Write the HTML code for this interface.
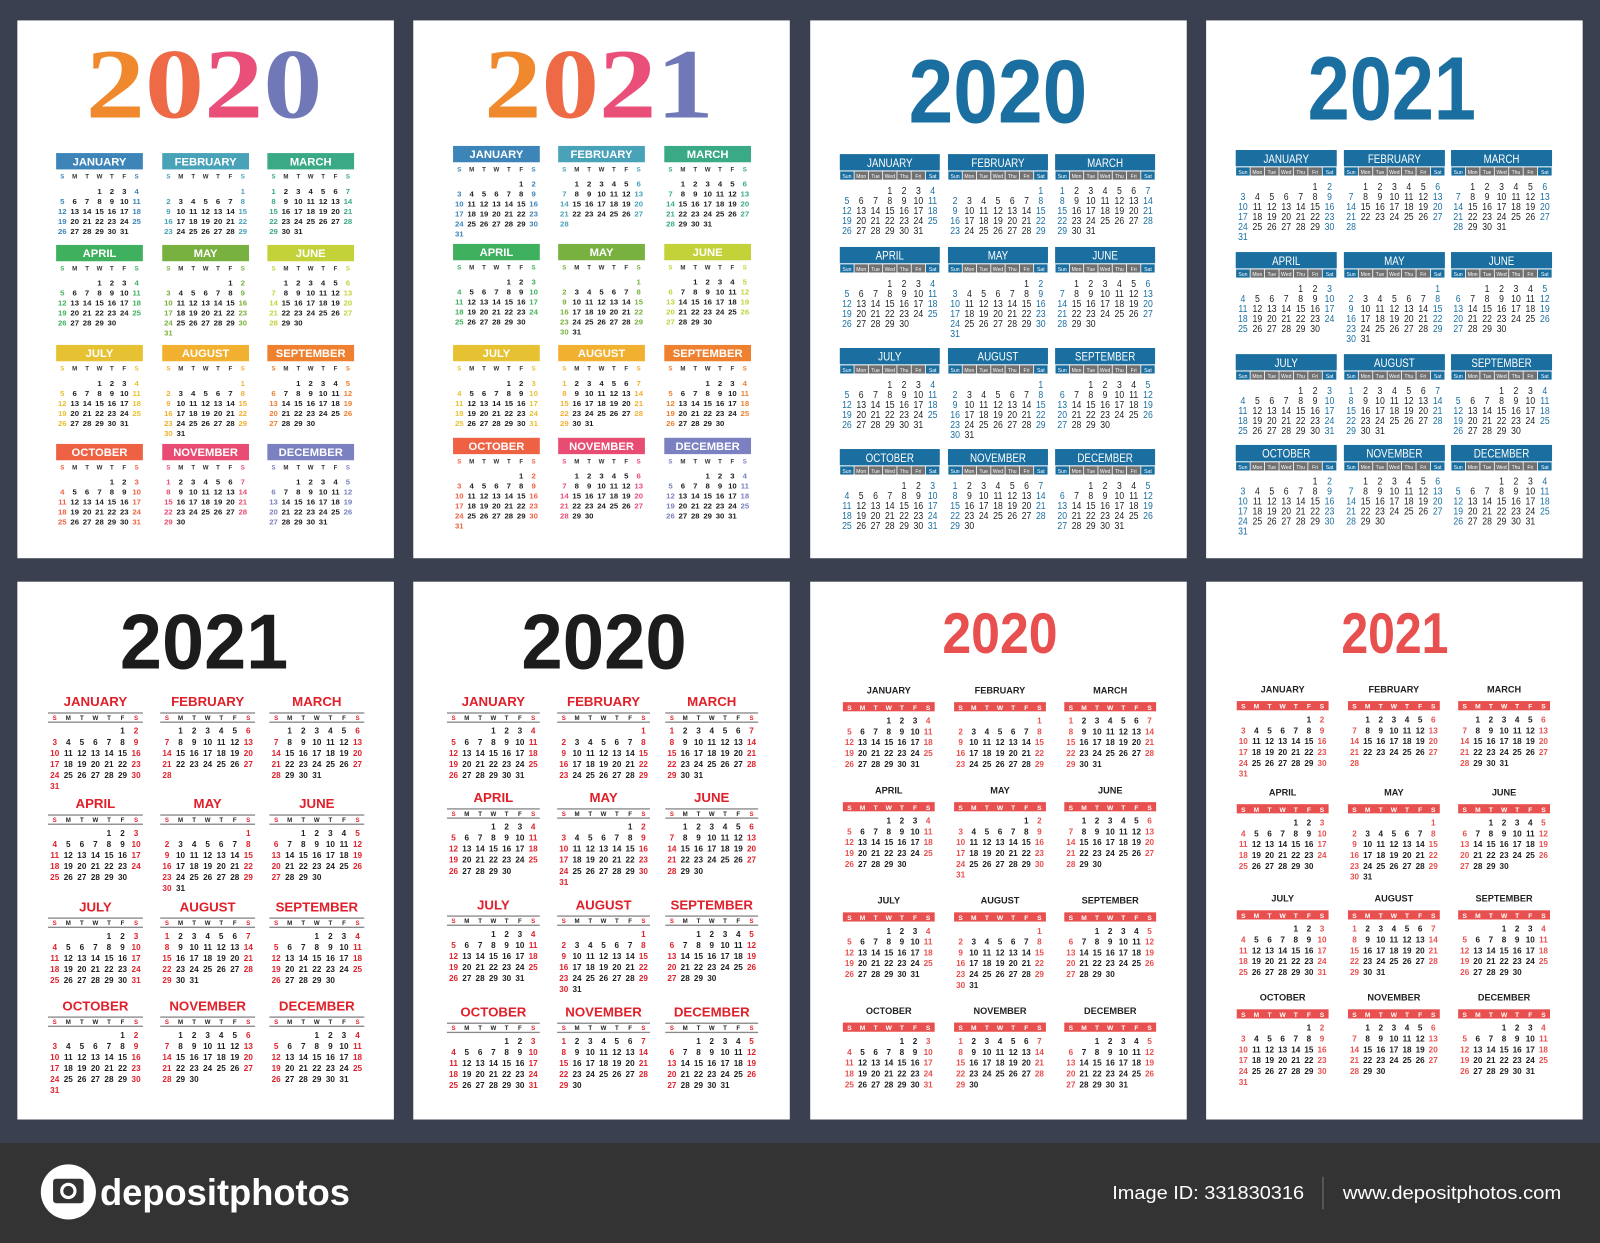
<!DOCTYPE html>
<html><head><meta charset="utf-8"><style>
html,body{margin:0;padding:0;background:#3b4050;}
svg{display:block;}
</style></head><body>
<svg id="cv" width="1600" height="1243" viewBox="0 0 1568 1218" preserveAspectRatio="none" xmlns="http://www.w3.org/2000/svg">
<rect x="0" y="0" width="1568" height="1218" fill="#3b4050"/>
</svg>
<script>
const cardYears=[2020,2021,2020,2021,2021,2020,2020,2021];
const cardStyles=['color','color','blue','blue','black','black','red','red'];
const monthNames=['JANUARY','FEBRUARY','MARCH','APRIL','MAY','JUNE','JULY','AUGUST','SEPTEMBER','OCTOBER','NOVEMBER','DECEMBER'];
const monthColors=['#3d85b8','#48a2b8','#3aaa86','#3fb05e','#78b13f','#c4d23a','#e6c232','#f2b030','#ee8030','#ee6142','#e84c72','#7a80c0'];
const digitColors=['#f0892d','#ee6a47','#ea4f7a','#7078b8'];
const cardX=[17,405,794,1182,17,405,794,1182];
const cardY=[20,20,20,20,570,570,570,570];
const cardCols=[[38,142,245],[39,142,246],[29,135,240],[29,135,240],[30,140,247],[33,141,247],[32,141,249],[30,139,247]];
const cardColW=[85,85,98,99,93,91,90,90];
const cardRows=[[150,240,338,435],[143,239,338,429],[151,242,341,440],[147,247,347,436],[687,787,888,985],[687,781,886,991],[676,774,882,990],[675,776,880,977]];
const titleCx=[200,587,978,1364,200,592,980,1367];
const titleBase=[115,115,120,117,655,655,640,640];
const titleW=[232,225,175,165,165,162,113,105];
const titleSize=[98,98,88,88,76,76,56,56];

const NS='http://www.w3.org/2000/svg';
const svg=document.getElementById('cv');
function mk(tag,attrs,parent){const e=document.createElementNS(NS,tag);for(const k in attrs)e.setAttribute(k,attrs[k]);(parent||svg).appendChild(e);return e;}
const SANS='"Liberation Sans", "DejaVu Sans", sans-serif';

for(let c=0;c<8;c++){
  const g=mk('g',{});
  
  
  const st=cardStyles[c], yr=cardYears[c], X=cardX[c];
  const card=mk('rect',{x:X,y:cardY[c],width:369,height:527,fill:'#ffffff'},g);
  
  
  // title
  const digits=String(yr).split('');
  if(st==='color'){
    const tt=mk('text',{x:titleCx[c]-titleW[c]/2,y:titleBase[c],'font-family':'"Liberation Serif", serif','font-weight':'bold','font-size':titleSize[c],textLength:titleW[c],lengthAdjust:'spacingAndGlyphs'},g);
    
    
    digits.forEach((d,i)=>{const ts=mk('tspan',{fill:digitColors[i]},tt);ts.textContent=d;});
  } else {
    const col={blue:'#1a6fa0',black:'#1c1c1c',red:'#e8504f'}[st];
    const tt=mk('text',{x:titleCx[c]-titleW[c]/2,y:titleBase[c],'font-family':SANS,'font-weight':'bold','font-size':titleSize[c],fill:col,textLength:titleW[c],lengthAdjust:'spacingAndGlyphs'},g);
    
    
    tt.textContent=String(yr);
  }
  for(let m=0;m<12;m++){
    const r=Math.floor(m/3), k=m%3;
    const mx=X+cardCols[c][k], w=cardColW[c], my=cardRows[c][r];
    const mg=mk('g',{},g);
    
    
    let accent, nameY, firstRow, spacing, dayFs, dnY;
    const cw=w/7;
    if(st==='color'){
      accent=monthColors[m];
      mk('rect',{x:mx,y:my,width:w,height:16,fill:accent},mg);
      const t=mk('text',{x:mx+w/2,y:my+12,'text-anchor':'middle','font-family':SANS,'font-weight':'bold','font-size':11,fill:'#fff'},mg);
      t.textContent=monthNames[m];
      dnY=my+25; firstRow=my+40; spacing=9.8; dayFs=7.6;
      'SMTWTFS'.split('').forEach((d,i)=>{const e=mk('text',{x:mx+cw*(i+0.5),y:dnY,'text-anchor':'middle','font-family':SANS,'font-weight':'bold','font-size':6,fill:(i==0||i==6)?accent:'#333'},mg);e.textContent=d;});
    } else if(st==='blue'){
      accent='#1a6fa0';
      mk('rect',{x:mx,y:my,width:w,height:16,fill:accent},mg);
      const t=mk('text',{x:mx+w/2,y:my+12.5,'text-anchor':'middle','font-family':SANS,'font-size':12,fill:'#fff',transform:`translate(${mx+w/2},0) scale(0.8,1) translate(${-(mx+w/2)},0)`},mg);
      t.textContent=monthNames[m];
      ['Sun','Mon','Tue','Wed','Thu','Fri','Sat'].forEach((d,i)=>{mk('rect',{x:mx+cw*i+0.4,y:my+17,width:cw-0.8,height:8,fill:(i==0||i==6)?accent:'#707070'},mg);const e=mk('text',{x:mx+cw*(i+0.5),y:my+23.5,'text-anchor':'middle','font-family':SANS,'font-size':5,fill:'#fff'},mg);e.textContent=d;});
      firstRow=my+39; spacing=9.8; dayFs=10;
    } else if(st==='black'){
      accent='#e0202a';
      const t=mk('text',{x:mx+w/2,y:my+5,'text-anchor':'middle','font-family':SANS,'font-weight':'bold','font-size':13,fill:accent},mg);
      t.textContent=monthNames[m];
      mk('rect',{x:mx,y:my+11,width:w,height:1.3,fill:'#888'},mg);
      mk('rect',{x:mx,y:my+20,width:w,height:1.3,fill:'#888'},mg);
      'SMTWTFS'.split('').forEach((d,i)=>{const e=mk('text',{x:mx+cw*(i+0.5),y:my+18.5,'text-anchor':'middle','font-family':SANS,'font-weight':'bold','font-size':6,fill:(i==0||i==6)?accent:'#222'},mg);e.textContent=d;});
      firstRow=my+32; spacing=10.8; dayFs=8;
    } else {
      accent='#e8504f';
      const t=mk('text',{x:mx+w/2,y:my+3.5,'text-anchor':'middle','font-family':SANS,'font-weight':'bold','font-size':9,fill:'#222'},mg);
      t.textContent=monthNames[m];
      mk('rect',{x:mx,y:my+12,width:w,height:9,fill:accent},mg);
      'SMTWTFS'.split('').forEach((d,i)=>{const e=mk('text',{x:mx+cw*(i+0.5),y:my+19.5,'text-anchor':'middle','font-family':SANS,'font-weight':'bold','font-size':6.5,fill:'#fff'},mg);e.textContent=d;});
      firstRow=my+33; spacing=10.6; dayFs=8;
    }
    const first=new Date(yr,m,1).getDay(), nd=new Date(yr,m+1,0).getDate();
    for(let d=1;d<=nd;d++){
      const idx=first+d-1, col=idx%7, row=Math.floor(idx/7);
      const e=mk('text',{x:mx+cw*(col+0.5),y:firstRow+row*spacing,'text-anchor':'middle','font-family':SANS,'font-weight':st==='blue'?'normal':'bold','font-size':dayFs,fill:(col==0||col==6)?accent:'#1e1e1e'},mg);
      if(st==='blue'){e.setAttribute('transform',`translate(${mx+cw*(col+0.5)},0) scale(0.85,1) translate(${-(mx+cw*(col+0.5))},0)`);}
      e.textContent=d;
    }
  }
}
// footer
const fg=mk('g',{});


mk('rect',{x:0,y:1120,width:1568,height:98,fill:'#333333'},fg);
const logo=mk('g',{},fg);


mk('circle',{cx:67,cy:1168,r:27,fill:'#fff'},logo);
mk('rect',{x:52,y:1155,width:30,height:24,rx:3,fill:'#333'},logo);
mk('circle',{cx:67,cy:1167,r:8,fill:'#fff'},logo);
mk('circle',{cx:67,cy:1167,r:5,fill:'#333'},logo);
const lt=mk('text',{x:98,y:1181,'font-family':SANS,'font-weight':'bold','font-size':36,fill:'#fff',textLength:245,lengthAdjust:'spacingAndGlyphs'},logo);
lt.textContent='depositphotos';
const idt=mk('text',{x:1090,y:1175,'font-family':SANS,'font-size':18,fill:'#fff',textLength:188,lengthAdjust:'spacingAndGlyphs'},fg);


idt.textContent='Image ID: 331830316';
mk('rect',{x:1296,y:1153,width:1,height:32,fill:'#777'},fg);
const ut=mk('text',{x:1316,y:1175,'font-family':SANS,'font-size':18,fill:'#fff',textLength:214,lengthAdjust:'spacingAndGlyphs'},fg);


ut.textContent='www.depositphotos.com';
</script>
</body></html>
